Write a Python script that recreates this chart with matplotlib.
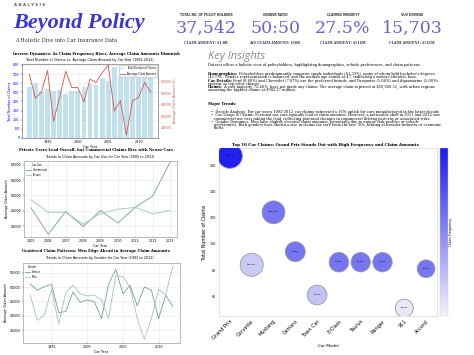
import numpy as np
import matplotlib.pyplot as plt
from matplotlib.colors import LinearSegmentedColormap

W, H = 474, 355

# chart 1: claims vs avg claim by car year
years = list(range(1992, 2013))
total_claims = [561, 604, 516, 540, 509, 523, 484, 516, 516, 561, 586,
                579, 656, 621, 772, 674, 730, 712, 677, 670, 660]
avg_claim = [53400, 49100, 50200, 54000, 45100, 49300, 53900, 51000, 51000, 48500, 52500,
             51900, 53600, 55000, 46900, 48700, 42700, 48700, 49300, 51900, 50200]

# chart 2: car use
use_years = list(range(2005, 2014))
private_amt = [48600, 44500, 44500, 40600, 44100, 45500, 46100, 44000, 45100]
commercial_amt = [46000, 37300, 44800, 39800, 45100, 41000, 46100, 49800, 60900]

# chart 3: gender
female_amt = [51100, 48900, 50200, 50900, 41100, 41500, 48300, 44700, 45500, 44900, 39000,
              51100, 56200, 47700, 50600, 43500, 50000, 48900, 39000, 47200, 43200]
male_amt = [47400, 38400, 40300, 49200, 37200, 48100, 50600, 47700, 46900, 47200, 45500,
            39000, 54000, 53600, 50000, 39200, 31800, 39200, 49200, 47400, 57400]

# bubble chart: top 10 car models
models = ['Grand Prix', 'Corvette', 'Mustang', 'Camaro', 'Town Car',
          'E-Class', 'Taurus', 'Ranger', '911', 'Accord']
model_claims = [167, 84, 124, 94, 61, 86, 86, 86, 51, 81]
model_amount = [12.4, 10.6, 10.4, 7.9, 7.7, 7.6, 7.5, 7.5, 6.4, 6.3]   # $M
model_freq = [1.95, 0.95, 1.45, 1.45, 1.0, 1.45, 1.45, 1.45, 0.78, 1.45]

kpi_heads = ['TOTAL NO. OF POLICY HOLDERS', 'GENDER RATIO', 'CLAIMED MINORITY', 'SUV DRIVING']
kpi_values = ['37,542', '50:50', '27.5%', '15,703']
kpi_subs = ['CLAIM AMOUNT: $1.8B', 'AVG.CLAIM AMOUNT: $50K', 'CLAIM AMOUNT: $516M', 'CLAIM AMOUNT: $545M']


def px(x, y):
    return x / W, 1 - y / H


def box(l, t, r, b):
    return [l / W, 1 - b / H, (r - l) / W, (b - t) / H]


SERIF = 'DejaVu Serif'
fig = plt.figure(figsize=(4.74, 3.55), dpi=100)
fig.patch.set_facecolor('white')


def style(ax):
    ax.tick_params(labelsize=2.4, length=1, width=0.3, pad=0.8)
    for s in ax.spines.values():
        s.set_linewidth(0.4)
        s.set_color('#888888')
    ax.grid(True, color='#e6e6e6', lw=0.4)
    ax.set_axisbelow(True)


# header
fig.text(*px(14, 5), 'A N A L Y S I S', fontsize=2.8, weight='bold', color='#555555', va='center')
fig.text(*px(13, 23), 'Beyond Policy', fontsize=16, weight='bold', style='italic',
         family='Liberation Serif', color='#3b35d4', va='center')
fig.text(*px(15, 41), 'A Holistic Dive into Car Insurance Data', fontsize=3.6,
         family=SERIF, color='#333333', va='center')

kpi_x = [206, 275, 343, 412]
for cx, h, v, s in zip(kpi_x, kpi_heads, kpi_values, kpi_subs):
    fig.text(*px(cx, 15), h, fontsize=2.2, weight='bold', ha='center', va='center', color='#333333')
    fig.text(*px(cx, 28.5), v, fontsize=12.5, family=SERIF, ha='center', va='center', color='#6f5fcf')
    fig.text(*px(cx, 42), s, fontsize=2.3, weight='bold', family=SERIF, ha='center', va='center',
             color='#333333')

# chart 1
fig.text(*px(96, 54), 'Inverse Dynamics: As Claim Frequency Rises, Average Claim Amounts Diminish',
         fontsize=2.7, weight='bold', family=SERIF, ha='center', va='center')
ax1 = fig.add_axes(box(22, 64, 158, 138))
style(ax1)
b = ax1.bar(years, total_claims, color='#add8e6', alpha=0.75, width=0.8, label='Total Number of Claims')
ax1.set_ylim(0, 810)
ax1.set_xlim(1990.8, 2013.2)
ax1.set_xticks([1995, 2000, 2005, 2010])
ax1.set_ylabel('Total Number of Claims', fontsize=2.4, color='blue', labelpad=1)
ax1.tick_params(axis='y', labelcolor='blue')
ax1.set_xlabel('Car Year', fontsize=2.4, labelpad=0.5)
ax1.set_title('Total Number of Claims vs. Average Claim Amount by Car Year (1992-2012)', fontsize=2.4, pad=2)
ax1b = ax1.twinx()
l, = ax1b.plot(years, avg_claim, color='#d9534f', lw=0.6, label='Average Claim Amount')
ax1b.set_ylim(42170, 55140)
ax1b.set_yticks([44000, 46000, 48000, 50000, 52000])
ax1b.tick_params(labelsize=2.4, length=1, width=0.3, pad=1, labelcolor='#d9534f')
ax1b.set_ylabel('Average Claim Amount ($)', fontsize=2.4, color='#d9534f', labelpad=1)
for s in ax1b.spines.values():
    s.set_linewidth(0.4)
    s.set_color('#888888')
ax1b.legend([b, l], ['Total Number of Claims', 'Average Claim Amount'], loc='upper right',
            fontsize=1.8, frameon=True, handlelength=2, borderpad=0.4)

# chart 2
fig.text(*px(96, 150), 'Private Users Lead Overall, but Commercial Claims Rise with Newer Cars',
         fontsize=2.7, weight='bold', family=SERIF, ha='center', va='center')
ax2 = fig.add_axes(box(24, 161, 177, 237))
style(ax2)
ax2.plot(use_years, commercial_amt, color='#6e9f9c', lw=0.6, label='Commercial')
ax2.plot(use_years, private_amt, color='#a3c2be', lw=0.6, label='Private')
ax2.set_ylim(36400, 61300)
ax2.set_yticks([40000, 45000, 50000, 55000, 60000])
ax2.set_xticks(use_years)
ax2.set_xlabel('Car Year', fontsize=2.4, labelpad=0.5)
ax2.set_ylabel('Average Claim Amount', fontsize=2.4, labelpad=1)
fig.text(*px(100, 157), 'Trends in Claim Amounts by Car Use for Car Year (2005 to 2013)',
         fontsize=2.4, ha='center', va='center')
ax2.legend(title='Car Use', loc='upper left', fontsize=1.8, title_fontsize=1.8, frameon=False,
           handlelength=2, borderpad=0.2)

# chart 3
fig.text(*px(96, 251), 'Gendered Claim Patterns: Men Edge Ahead in Average Claim Amounts',
         fontsize=2.7, weight='bold', family=SERIF, ha='center', va='center')
ax3 = fig.add_axes(box(23, 263, 180, 343))
style(ax3)
ax3.plot(years, female_amt, color='#6e9f9c', lw=0.6, label='Female')
ax3.plot(years, male_amt, color='#a3c2be', lw=0.6, label='Male')
ax3.set_ylim(30500, 58400)
ax3.set_yticks([35000, 40000, 45000, 50000, 55000])
ax3.set_xticks([1995, 2000, 2005, 2010])
ax3.set_xlabel('Car Year', fontsize=2.4, labelpad=0.5)
ax3.set_ylabel('Average Claim Amount', fontsize=2.4, labelpad=1)
fig.text(*px(100, 258), 'Trends in Claim Amounts by Gender for Car Year (1992 to 2012)',
         fontsize=2.4, ha='center', va='center')
ax3.legend(title='Gender', loc='upper left', fontsize=1.8, title_fontsize=1.8, frameon=False,
           handlelength=2, borderpad=0.2)

# key insights
fig.text(*px(208, 57), 'Key Insights', fontsize=8, style='italic', color='#8a8a8a',
         family='Open Sans', va='center')
ov = fig.add_axes([0, 0, 1, 1])
ov.axis('off')
ov.set_zorder(-1)

FS = 2.6


def line(y, bold, rest, x=208):
    if bold:
        t = fig.text(*px(x, y), bold, fontsize=FS, weight='bold', family=SERIF, va='bottom')
        ov.annotate(' ' + rest, xy=(1, 0), xycoords=t, fontsize=FS, family=SERIF, va='bottom')
    else:
        fig.text(*px(x, y), rest, fontsize=FS, family=SERIF, va='bottom')


line(67, None, 'Dataset offers a holistic view of policyholders, highlighting demographics, '
     'vehicle preferences, and claim patterns.')
line(76, 'Demographics:', 'Policyholders predominantly comprise single individuals (41.33%), '
     "many of whom hold bachelor's degrees")
line(79.3, None, '(41.6%). Gender representation is balanced, and the median age stands at 47, '
     'indicating a mature clientele base.')
line(82.6, 'Car Details:', 'Ford (8.80%) and Chevrolet (7.87%) are the preferred brands, '
     'and Turquoise (5.04%) and Aquamarine (5.00%)')
line(85.9, None, 'emerge as top color choices.')
line(89.2, 'Claims:', 'A vast majority, 72.46%, have not made any claims. The average claim is '
     'priced at $50,028.51, with urban regions')
line(92.5, None, 'amassing the highest claims at $382.27 million.')
line(106, 'Major Trends:', '')
line(114, None, '\u2022  Decade Analysis: For car years 1992-2012, car claims witnessed a 16% uptick '
     'for cars manufactured in the latter decade.', x=211)
line(117.3, None, '\u2022  Car Usage & Claims: Personal-use cars typically lead in claim amounts. '
     'However, a noticeable shift in 2011 and 2012 saw', x=211)
line(120.6, None, 'commercial-use cars taking the lead, reflecting potential changes in commercial '
     'driving patterns or associated risks.', x=214)
line(123.9, None, '\u2022  Gender Dynamics: Men have slightly elevated claim amounts, potentially '
     'due to unique risk profiles or vehicle', x=211)
line(127.2, None, "preferences. Both genders have shown a rise in claims for cars from the late '90s, "
     'hinting at broader industry or economic', x=214)
line(130.5, None, 'shifts.', x=214)

# bubble chart
fig.text(*px(325, 145), 'Top 10 Car Claims: Grand Prix Stands Out with High Frequency and Claim Amounts',
         fontsize=2.9, weight='bold', family=SERIF, ha='center', va='center')
ax4 = fig.add_axes(box(219, 148, 437, 316))
cmap = LinearSegmentedColormap.from_list('bl', ['#f4f4f8', '#1a1af0'])
xs = np.arange(len(models))
sc = ax4.scatter(xs, model_claims, s=np.array(model_amount) * 26, c=model_freq, cmap=cmap,
                 vmin=0.7, vmax=2.0, edgecolors='#9a9a9a', linewidths=0.6, zorder=3)
for xi, yi, amt in zip(xs, model_claims, model_amount):
    ax4.text(xi, yi, f'${amt:.1f}M', fontsize=1.7, ha='center', va='center', zorder=4)
ax4.set_xlim(-0.5, 9.5)
ax4.set_ylim(45, 173)
ax4.set_yticks([60, 80, 100, 120, 140, 160])
ax4.set_xticks(xs)
ax4.set_xticklabels(models, rotation=45, ha='right', rotation_mode='anchor')
ax4.tick_params(axis='x', labelsize=3.6, length=0, pad=2)
ax4.tick_params(axis='y', labelsize=2.4, length=0, pad=2)
for s in ax4.spines.values():
    s.set_linewidth(0.4)
    s.set_color('#cccccc')
ax4.set_xlabel('Car Model', fontsize=3.0, labelpad=2)
ax4.set_ylabel('Total Number of Claims', fontsize=3.4, labelpad=2)
cax = fig.add_axes(box(440, 148, 448, 316))
cb = fig.colorbar(sc, cax=cax)
cb.outline.set_linewidth(0.3)
cb.outline.set_edgecolor('#cccccc')
cb.set_ticks([])
cb.set_label('Claim Frequency', fontsize=2.4, labelpad=1)

fig.savefig('out.png', dpi=100)
